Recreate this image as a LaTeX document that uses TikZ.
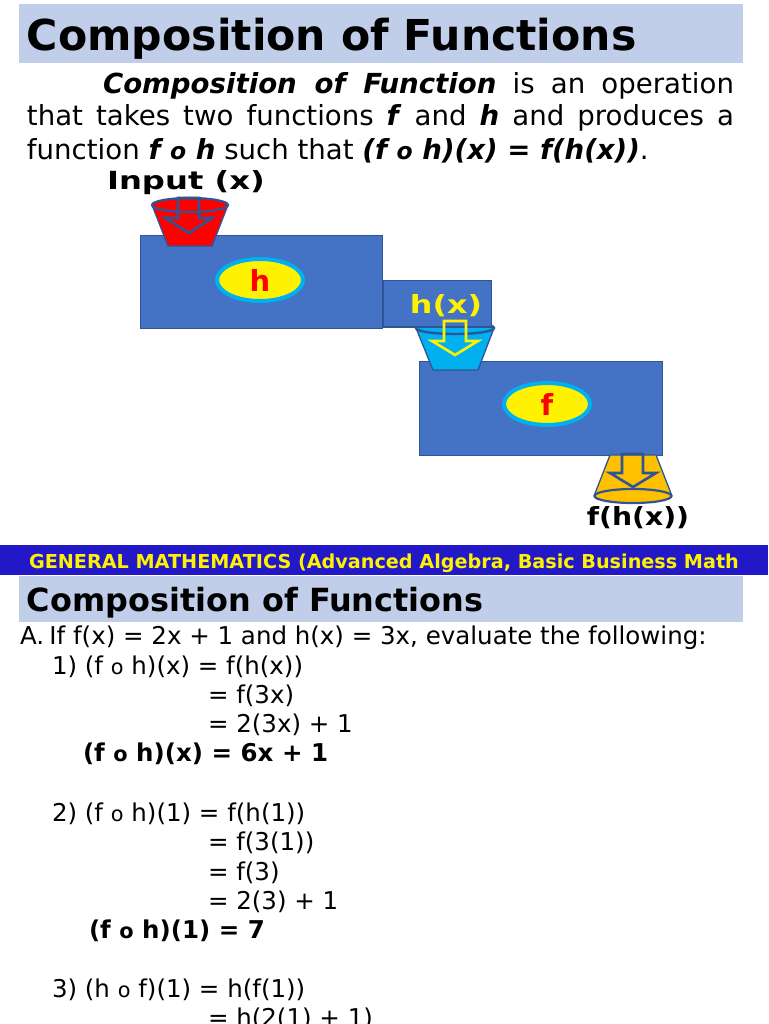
\documentclass[tikz,border=0pt]{standalone}
\usepackage{fontspec}
\usepackage{graphicx}
\setmainfont{DejaVu Sans}
\definecolor{band}{HTML}{C0CEEA}
\definecolor{navyband}{HTML}{2318C8}
\definecolor{boxblue}{HTML}{4472C4}
\definecolor{edgeblue}{HTML}{2F5597}
\definecolor{skyblue}{HTML}{00B0F0}
\definecolor{amber}{HTML}{FFC000}
\newcommand{\fsz}[1]{\fontsize{#1}{#1}\selectfont}
\newcommand{\smo}{\scalebox{0.85}{o}}
\tikzset{
  x=1pt,y=-1pt,
  txt/.style={anchor=base west,inner sep=0pt,outer sep=0pt},
  bodytxt/.style={txt,font=\fsz{24.5}},
  headband/.style={fill=band,draw=none},
  machine/.style={fill=boxblue,draw=edgeblue,line width=0.8pt},
  funnel/.style={draw=edgeblue,line width=1.3pt,line join=round},
  oval/.style={draw=skyblue,fill=yellow,line width=4pt},
  flowarrow/.style={line width=2.6pt,line join=miter,fill=none},
  ovaltxt/.style={inner sep=0pt,text=red,font=\fsz{29}\bfseries},
  stretched/.style={inner sep=0pt,font=\fsz{25}\bfseries},
}
\begin{document}
\begin{tikzpicture}
\useasboundingbox (0,0) rectangle (768,1024);
\fill[white] (0,0) rectangle (768,1024);
% title
\fill[headband] (19,4) rectangle (743,63);
\node[txt,font=\fsz{42.6}\bfseries] (title) at (27,51) {Composition of Functions};
% paragraph
\node[txt,font=\fsz{27.6}] (p1) at (103,94) {\makebox[631pt][s]{\textbf{\textit{Composition of Function}} is an operation}};
\node[txt,font=\fsz{27.6}] (p2) at (27,126) {\makebox[707pt][s]{that takes two functions \textbf{\textit{f}} and \textbf{\textit{h}} and produces a}};
\node[txt,font=\fsz{27.6}] (p3) at (27,160) {function \textbf{\textit{f \smo{} h}} such that \textbf{\textit{(f \smo{} h)(x) = f(h(x))}}.};
% input label
\node[stretched] (input) at (186,183) {\scalebox{1.29}[1]{Input (x)}};
% h machine
\draw[machine] (140,235) rectangle (382.5,328);
\draw[funnel,fill=red] (152,205) -- (168,246) -- (212,246) -- (228,205) -- cycle;
\draw[funnel,line width=2.2pt,fill=red] (190,205) ellipse [x radius=38,y radius=7];
\draw[flowarrow,draw=edgeblue] (178,198) -- (178,218) -- (165,218) -- (189,233) -- (212,218) -- (199,218) -- (199,198) -- cycle;
\draw[oval] (260,280) ellipse [x radius=43,y radius=21];
\node[ovaltxt] (hlabel) at (260,280) {h};
% blue funnel below h(x)
\draw[machine] (419.5,361) rectangle (662.5,455);
\draw[funnel,fill=skyblue] (416,328) -- (433,370) -- (478,370) -- (494,328) -- cycle;
\draw[line width=2.4pt,draw=edgeblue,fill=skyblue] (455,328) ellipse [x radius=39,y radius=6];
% h(x) box
\draw[machine,line width=1.8pt] (383,280.5) rectangle (491.5,327);
\node[stretched,text=yellow] (hx) at (446,306) {\scalebox{1.27}[1]{h(x)}};
\draw[flowarrow,draw=yellow] (444,321) -- (444,341) -- (432,341) -- (455,355) -- (478,341) -- (466,341) -- (466,321) -- cycle;
% f machine
\draw[oval] (547,404) ellipse [x radius=43,y radius=21];
\node[ovaltxt] (flabel) at (547,404) {f};
% output funnel
\draw[funnel,fill=amber] (610,455) -- (594,496) -- (672,496) -- (656,455) -- cycle;
\draw[funnel,line width=2.2pt,fill=amber] (633,496) ellipse [x radius=38.5,y radius=7];
\draw[flowarrow,draw=edgeblue] (622,454) -- (622,473) -- (610,473) -- (633,487) -- (656,473) -- (643,473) -- (643,454) -- cycle;
\node[stretched] (fhx) at (638,518) {\scalebox{1.13}[1]{f(h(x))}};
% banner
\fill[navyband] (0,545) rectangle (768,575);
\node[txt,font=\fsz{19.2}\bfseries,text=yellow] (banner) at (29,568) {GENERAL MATHEMATICS (Advanced Algebra, Basic Business Math};
% second slide
\fill[headband] (19,576) rectangle (743,622);
\node[txt,font=\fsz{31.9}\bfseries] (title2) at (27,611) {Composition of Functions};
\node[bodytxt] (l0) at (20,644) {A.\hspace{-0.1em} If f(x) = 2x + 1 and h(x) = 3x, evaluate the following:};
\node[bodytxt] (l1) at (52,674) {1) (f \smo{} h)(x) = f(h(x))};
\node[bodytxt] (l2) at (208,703) {= f(3x)};
\node[bodytxt] (l3) at (208,732) {= 2(3x) + 1};
\node[bodytxt,font=\fsz{24.5}\bfseries] (l4) at (83,761) {(f \smo{} h)(x) = 6x + 1};
\node[bodytxt] (l5) at (52,821) {2) (f \smo{} h)(1) = f(h(1))};
\node[bodytxt] (l6) at (208,850) {= f(3(1))};
\node[bodytxt] (l7) at (208,880) {= f(3)};
\node[bodytxt] (l8) at (208,909) {= 2(3) + 1};
\node[bodytxt,font=\fsz{24.5}\bfseries] (l9) at (89,938) {(f \smo{} h)(1) = 7};
\node[bodytxt] (l10) at (52,997) {3) (h \smo{} f)(1) = h(f(1))};
\node[bodytxt] (l11) at (208,1026) {= h(2(1) + 1)};
\end{tikzpicture}
\end{document}
